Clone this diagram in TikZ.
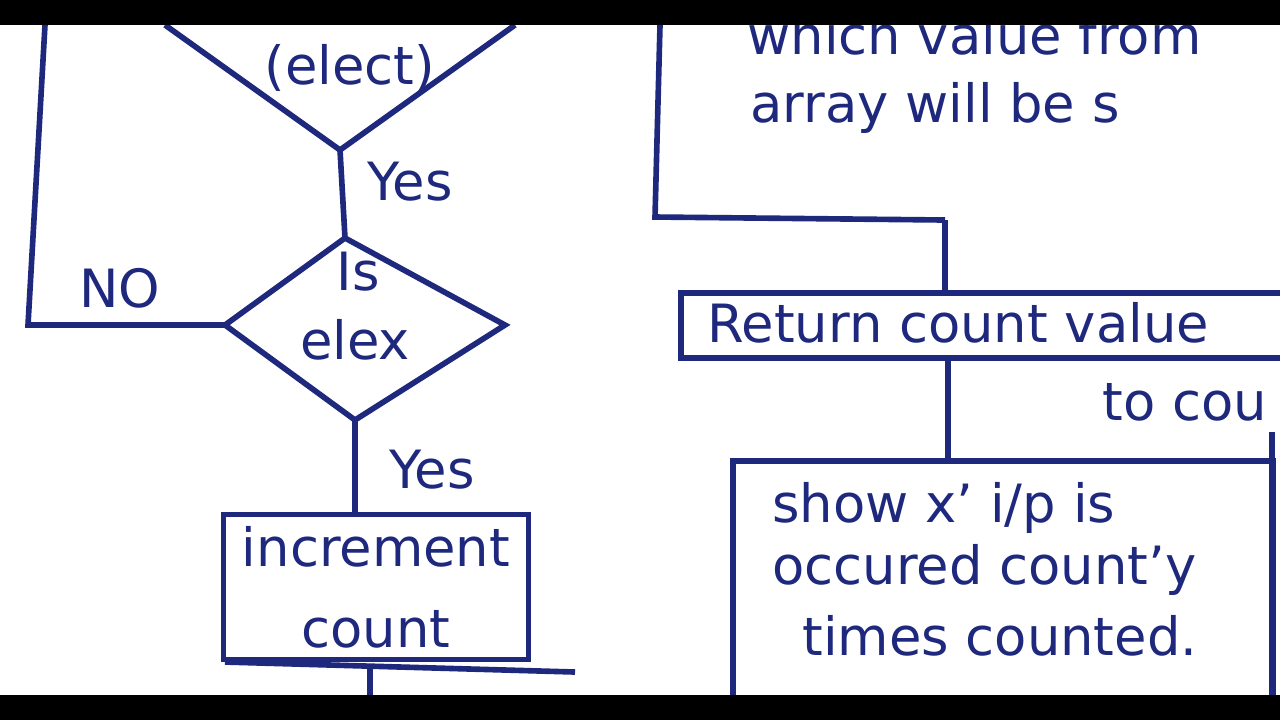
\documentclass[tikz,border=0pt]{standalone}
\usepackage{fontspec}
\setmainfont{DejaVu Sans}
\usetikzlibrary{shapes.geometric}
\definecolor{ink}{RGB}{30,40,125}
\tikzset{
  lbl/.style={text=ink, font=\fontsize{15}{19}\selectfont},
  ln/.style={ink, line width=1.6pt}
}
\begin{document}
\begin{tikzpicture}[x=0.01cm, y=-0.01cm]
\useasboundingbox (0,0) rectangle (1280,720);
\fill[white] (0,0) rectangle (1280,720);

% first decision, cut off at the top
\coordinate (dA) at (165,25);
\coordinate (dB) at (515,25);
\coordinate (dtip) at (340,150);
\draw[ln] (dA) -- (dtip) -- (dB);
\node[lbl] (elect) at (350,68) {(elect)};

% second decision
\coordinate (etop) at (345,238);
\coordinate (eleft) at (225,325);
\coordinate (eright) at (505,325);
\coordinate (ebot) at (355,420);
\draw[ln] (etop) -- (eright) -- (ebot) -- (eleft) -- cycle;
\node[lbl] (is) at (358,272) {Is};
\node[lbl] (elex) at (355,340) {elex};
\draw[ln] (dtip) -- (etop);
\node[lbl] (yes1) at (410,182) {Yes};

% no branch
\coordinate (nocorner) at (28,325);
\coordinate (noend) at (45,25);
\draw[ln] (eleft) -- (nocorner) -- (noend);
\node[lbl] (no) at (120,288) {NO};

% increment count
\node[draw=ink, line width=1.6pt, minimum width=3.05cm, minimum height=1.45cm,
      align=center, lbl] (incr) at (376,587) {increment\\[4pt]count};
\draw[ln] (ebot) -- (incr.north -| ebot);
\node[lbl] (yes2) at (432,470) {Yes};
\coordinate (baseL) at (225,662);
\coordinate (baseR) at (575,672);
\draw[ln] (baseL) -- (baseR);
\coordinate (downA) at (370,666);
\coordinate (downB) at (370,695);
\draw[ln] (downA) -- (downB);

% right column
\coordinate (rtop) at (660,25);
\coordinate (rcorner) at (655,217);
\coordinate (rjoin) at (945,220);
\node[lbl, anchor=west] (which) at (735,35) {which value from};
\node[lbl, anchor=west] (array) at (738,108) {array will be s};
\draw[ln] (rtop) -- (rcorner) -- (rjoin);

\node[draw=ink, line width=1.6pt, minimum width=6.2cm, minimum height=0.65cm,
      anchor=north west, lbl] (ret) at (678,290) {};
\node[lbl, anchor=west] (rettext) at (695,323) {Return count value};
\draw[ln] (rjoin) -- (rjoin |- ret.north);
\node[lbl, anchor=west] (tocou) at (1090,402) {to cou};

\node[draw=ink, line width=1.6pt, minimum width=5.4cm, minimum height=2.4cm,
      anchor=north west, lbl] (show) at (730,458) {};
\node[lbl, anchor=west] (s1) at (760,508) {show x' i/p is};
\node[lbl, anchor=west] (s2) at (760,570) {occured count'y};
\node[lbl, anchor=west] (s3) at (790,636) {times counted.};
\coordinate (link) at (948,357);
\draw[ln] (link) -- (show.north -| link);
\coordinate (edgeT) at (1272,432);
\coordinate (edgeB) at (1272,695);
\draw[ln] (edgeT) -- (edgeB);

% black bars
\fill[black] (0,0) rectangle (1280,25);
\fill[black] (0,695) rectangle (1280,720);
\end{tikzpicture}
\end{document}
